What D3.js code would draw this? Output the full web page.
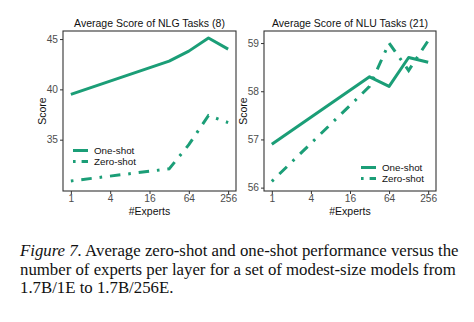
<!DOCTYPE html>
<html>
<head>
<meta charset="utf-8">
<script src="https://cdn.jsdelivr.net/npm/d3@7"></script>
<style>
  html, body { margin: 0; padding: 0; background: #ffffff; }
  svg { display: block; }
</style>
</head>
<body>
<svg id="chart" width="474" height="322"></svg>
<script>
// ---- data ----
const experts = [1, 32, 64, 128, 256];
const xTicks = [1, 4, 16, 64, 256];
const nlgOneShot  = [39.5, 42.8, 43.8, 45.1, 44.0];
const nlgZeroShot = [30.9, 32.1, 34.5, 37.4, 36.7];
const nluOneShot  = [56.9, 58.3, 58.1, 58.7, 58.6];
const nluZeroShot = [56.13, 58.1, 59.0, 58.43, 59.05];
const nlgTicks = [35, 40, 45];
const nluTicks = [56, 57, 58, 59];
const seriesNames = ["One-shot", "Zero-shot"];
const titles = ["Average Score of NLG Tasks (8)", "Average Score of NLU Tasks (21)"];
const captionLines = [
  ["Figure 7.", " Average zero-shot and one-shot performance versus the"],
  ["", "number of experts per layer for a set of modest-size models from"],
  ["", "1.7B/1E to 1.7B/256E."]
];

const color = "#1b9e77";
const svg = d3.select("#chart");
const sans = "'Liberation Sans', Arial, Helvetica, sans-serif";

function panel(cfg) {
  const g = svg.append("g");
  const x = d3.scaleLog().base(2)
    .domain([Math.pow(2, -0.4), 256 * Math.pow(2, 0.4)])
    .range([cfg.left, cfg.right]);
  const y = d3.scaleLinear().domain(cfg.yDomain).range([cfg.bottom, cfg.top]);

  // axes
  const xAxis = d3.axisBottom(x).tickValues(xTicks).tickSize(3).tickPadding(1).tickFormat(d3.format("d"));
  const gx = g.append("g").attr("transform", `translate(0,${cfg.bottom})`).call(xAxis);
  const yAxis = d3.axisLeft(y).tickValues(cfg.ticks).tickSize(3).tickPadding(2).tickFormat(d3.format("d"));
  const gy = g.append("g").attr("transform", `translate(${cfg.left},0)`).call(yAxis);
  [gx, gy].forEach(a => {
    a.select(".domain").remove();
    a.selectAll(".tick line").attr("stroke", "#333");
    a.selectAll(".tick text").attr("fill", "#4d4d4d")
      .style("font-family", sans).style("font-size", "10.2px");
  });

  // lines
  const line = d3.line().x((d, i) => x(experts[i])).y(d => y(d));
  g.append("path").datum(cfg.one).attr("d", line)
    .attr("fill", "none").attr("stroke", color).attr("stroke-width", 3)
    .attr("stroke-linejoin", "round");
  g.append("path").datum(cfg.zero).attr("d", line)
    .attr("fill", "none").attr("stroke", color).attr("stroke-width", 3)
    .attr("stroke-dasharray", "2.6,7.9,10.5,7.9");

  // frame
  g.append("rect").attr("x", cfg.left).attr("y", cfg.top)
    .attr("width", cfg.right - cfg.left).attr("height", cfg.bottom - cfg.top)
    .attr("fill", "none").attr("stroke", "#333").attr("stroke-width", 1.1);

  // title
  g.append("text").attr("x", (cfg.left + cfg.right) / 2).attr("y", cfg.top - 4)
    .attr("text-anchor", "middle").style("font-family", sans).style("font-size", "10.5px")
    .attr("fill", "#111").text(cfg.title);

  // axis titles
  g.append("text").attr("x", (cfg.left + cfg.right) / 2).attr("y", cfg.bottom + 24)
    .attr("text-anchor", "middle").style("font-family", sans).style("font-size", "10.5px")
    .attr("fill", "#111").text("#Experts");
  g.append("text")
    .attr("transform", `translate(${cfg.left - 17},${(cfg.top + cfg.bottom) / 2}) rotate(-90)`)
    .attr("text-anchor", "middle").style("font-family", sans).style("font-size", "10.5px")
    .attr("fill", "#111").text("Score");

  // legend
  const lg = g.append("g").attr("transform", `translate(${cfg.legX},${cfg.legY})`);
  seriesNames.forEach((name, i) => {
    lg.append("line").attr("x1", 0).attr("x2", 15).attr("y1", i * 11).attr("y2", i * 11)
      .attr("stroke", color).attr("stroke-width", 3)
      .attr("stroke-dasharray", i === 0 ? null : "2.6,6,10.5,7.9");
    lg.append("text").attr("x", 21).attr("y", i * 11 + 3.6)
      .style("font-family", sans).style("font-size", "9.8px").attr("fill", "#111").text(name);
  });
}

panel({ left: 63, right: 236, top: 31, bottom: 191, yDomain: [29.9, 45.8], ticks: nlgTicks,
        one: nlgOneShot, zero: nlgZeroShot, title: titles[0], legX: 73, legY: 150.5 });
panel({ left: 264, right: 436, top: 31, bottom: 191, yDomain: [55.93, 59.25], ticks: nluTicks,
        one: nluOneShot, zero: nluZeroShot, title: titles[1], legX: 361, legY: 167.5 });

// caption
const cap = svg.append("g").style("font-family", "'Liberation Serif', 'Times New Roman', serif")
  .style("font-size", "16.8px").attr("fill", "#111");
captionLines.forEach((parts, i) => {
  const t = cap.append("text").attr("x", 20).attr("y", 256 + i * 18.5);
  if (parts[0]) t.append("tspan").style("font-style", "italic").text(parts[0]);
  t.append("tspan").text(parts[1]);
});
</script>
</body>
</html>
